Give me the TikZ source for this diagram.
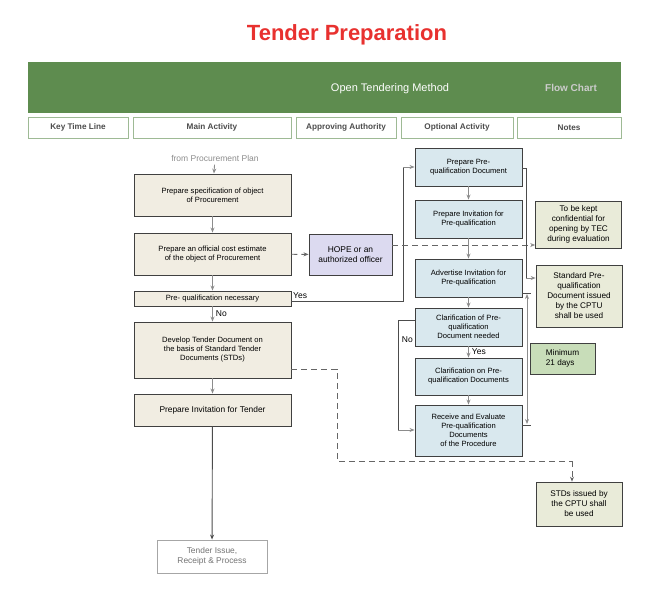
\documentclass[tikz,border=0pt]{standalone}
\usepackage{fontspec}
\setmainfont{Liberation Sans}
\usetikzlibrary{arrows.meta}
\definecolor{hdr}{HTML}{5E8C4F}
\definecolor{mainf}{HTML}{F1EDE2}
\definecolor{optf}{HTML}{D9E8EE}
\definecolor{notef}{HTML}{E9EBD9}
\definecolor{greenf}{HTML}{C8DDB9}
\definecolor{lav}{HTML}{DCDAF0}
\definecolor{ttl}{HTML}{E8312F}
\begin{document}
\begin{tikzpicture}[x=1pt,y=-1pt,
 box/.style={draw=black!75,line width=0.9pt,align=center,font=\fontsize{7.6}{9}\selectfont,inner sep=1pt},
 mainb/.style={box,fill=mainf,minimum width=157pt},
 optb/.style={box,fill=optf,minimum width=107pt},
 noteb/.style={box,fill=notef,line width=0.6pt,font=\fontsize{8.2}{10}\selectfont,minimum width=86pt},
 colh/.style={draw=hdr!60,line width=1pt,fill=white,font=\bfseries\fontsize{8.2}{10}\selectfont,text=black!70,minimum height=21pt},
 arr/.style={draw=black!45,line width=0.9pt,-{Stealth[length=5pt,width=4pt]}},
 ln/.style={draw=black!70,line width=0.9pt},
 dsh/.style={draw=black!60,line width=0.9pt,dash pattern=on 6pt off 4pt},
 lbl/.style={font=\fontsize{8.5}{10}\selectfont,inner sep=1pt}]
\useasboundingbox (0,0) rectangle (656,608);
\node[font=\bfseries\fontsize{22}{24}\selectfont,text=ttl] (title) at (347,35) {Tender Preparation};
\node[fill=hdr,minimum width=593pt,minimum height=51pt,anchor=north west] (hd) at (28,62) {};
\node[text=white,font=\fontsize{11}{13}\selectfont] (otm) at (390,89) {Open Tendering Method};
\node[text=black!20,font=\bfseries\fontsize{10}{12}\selectfont] (fc) at (571,88) {Flow Chart};
\node[colh,minimum width=100pt] (c1) at (78,127.5) {Key Time Line};
\node[colh,minimum width=158pt] (c2) at (212,127.5) {Main Activity};
\node[colh,minimum width=100pt] (c3) at (346,127.5) {Approving Authority};
\node[colh,minimum width=112pt] (c4) at (457,127.5) {Optional Activity};
\node[colh,minimum width=104pt] (c5) at (569,127.5) {Notes};
\node[text=black!45,font=\fontsize{8.5}{10}\selectfont] (pp) at (215,158) {from Procurement Plan};
\node[mainb,minimum height=42pt] (A) at (212.5,195) {Prepare specification of object\\of Procurement};
\node[mainb,minimum height=42pt] (B) at (212.5,254) {Prepare an official cost estimate\\of the object of Procurement};
\node[mainb,minimum height=15pt] (C) at (212.5,298.5) {Pre- qualification necessary};
\node[mainb,minimum height=56pt] (D) at (212.5,350) {Develop Tender Document on\\the basis of Standard Tender\\Documents (STDs)};
\node[mainb,minimum height=32pt,font=\fontsize{8.4}{10}\selectfont] (E) at (212.5,410) {Prepare Invitation for Tender};
\node[box,draw=black!35,text=black!55,fill=white,minimum width=110pt,minimum height=33pt,font=\fontsize{8.4}{10}\selectfont] (F) at (212,556.5) {Tender Issue,\\Receipt \& Process};
\node[box,fill=lav,minimum width=83pt,minimum height=41pt,font=\fontsize{8.4}{10}\selectfont] (H) at (350.5,254.5) {HOPE or an\\authorized officer};
\node[optb,minimum height=38pt] (P1) at (468.5,167) {Prepare Pre-\\qualification Document};
\node[optb,minimum height=38pt] (P2) at (468.5,219) {Prepare Invitation for\\Pre-qualification};
\node[optb,minimum height=38pt] (P3) at (468.5,278) {Advertise Invitation for\\Pre-qualification};
\node[optb,minimum height=38pt] (P4) at (468.5,327) {Clarification of Pre-\\qualification\\Document needed};
\node[optb,minimum height=37pt] (P5) at (468.5,376.5) {Clarification on Pre-\\qualification Documents};
\node[optb,minimum height=51pt] (P6) at (468.5,430.5) {Receive and Evaluate\\Pre-qualification\\Documents\\of the Procedure};
\node[noteb,minimum height=47pt] (N1) at (578.5,224.5) {To be kept\\confidential for\\opening by TEC\\during evaluation};
\node[noteb,minimum height=62pt] (N2) at (579,296) {Standard Pre-\\qualification\\Document issued\\by the CPTU\\shall be used};
\node[noteb,fill=greenf,minimum width=65pt,minimum height=31pt,align=left] (N3) at (562.5,358.5) {Minimum\\21 days};
\node[noteb,minimum height=44pt] (N4) at (579,504) {STDs issued by\\the CPTU shall\\be used};
% main flow
\draw[arr] (pp) -- (A);
\draw[arr] (A) -- (B);
\draw[arr] (B) -- (C);
\draw[arr] (C) -- node[lbl,right=2pt]{No} (D);
\draw[arr] (D) -- (E);
\draw[ln,-{Stealth[length=5pt,width=4pt]}] (E) -- (F);
\coordinate (y1) at (403,301);
\coordinate (y2) at (403,167);
\draw[ln] (C.east |- y1) -- (y1) -- (y2);
\draw[arr] (y2) -- (P1.west);
\node[lbl,anchor=south west] (yes1) at (292,300) {Yes};
\draw[dsh,-{Stealth[length=5pt,width=4pt]}] (B) -- (H);
\coordinate (d1) at (531,245);
\draw[dsh] (H.east |- d1) -- (d1);
\draw[arr] (d1) -- (N1.west |- d1);
% optional chain
\draw[arr] (P1) -- (P2);
\draw[arr] (P2) -- (P3);
\draw[arr] (P3) -- (P4);
\draw[arr] (P4) -- node[lbl,right=2pt]{Yes} (P5);
\draw[arr] (P5) -- (P6);
\coordinate (n1) at (398,320);
\coordinate (n2) at (398,430);
\draw[ln] (P4.west |- n1) -- (n1) -- (n2);
\draw[arr] (n2) -- (P6.west |- n2);
\node[lbl,anchor=south east] (no2) at (414,344) {No};
\coordinate (s1) at (526,168);
\coordinate (s2) at (526,278);
\draw[ln] (P1.east |- s1) -- (s1) -- (s2);
\draw[arr] (s2) -- (N2.west |- s2);
\coordinate (m1) at (531,293);
\coordinate (m2) at (531,425);
\draw[ln] (P3.east |- m1) -- (m1);
\draw[ln] (P6.east |- m2) -- (m2);
\draw[draw=black!45,line width=0.9pt,{Stealth[length=5pt,width=4pt]}-{Stealth[length=5pt,width=4pt]}] (527,294) -- (527,424);
% dashed to STDs note
\coordinate (t1) at (337,369);
\coordinate (t2) at (337,461);
\coordinate (t3) at (572,461);
\draw[dsh] (D.east |- t1) -- (t1) -- (t2) -- (t3);
\draw[dsh,-{Stealth[length=5pt,width=4pt]}] (t3) -- (N4.north -| t3);
\end{tikzpicture}
\end{document}
